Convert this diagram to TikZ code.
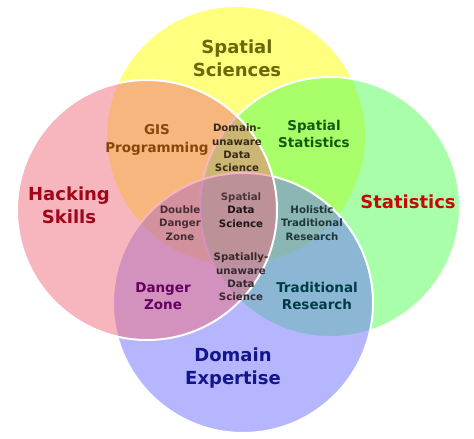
\documentclass[tikz,border=0pt]{standalone}
\usepackage{fontspec}
\setmainfont{DejaVu Sans}
\definecolor{cY}{RGB}{255,255,0}
\definecolor{cG}{RGB}{85,255,85}
\definecolor{cB}{RGB}{110,110,255}
\definecolor{cP}{RGB}{240,110,125}
\definecolor{tOlive}{RGB}{105,105,10}
\definecolor{tBrown}{RGB}{135,70,10}
\definecolor{tDkBrown}{RGB}{55,42,25}
\definecolor{tDkGreen}{RGB}{15,90,15}
\definecolor{tHack}{RGB}{160,5,25}
\definecolor{tStat}{RGB}{195,10,10}
\definecolor{tDD}{RGB}{70,45,50}
\definecolor{tSDS}{RGB}{25,20,20}
\definecolor{tSp}{RGB}{70,55,55}
\definecolor{tHol}{RGB}{30,55,55}
\definecolor{tSU}{RGB}{55,40,45}
\definecolor{tDanger}{RGB}{100,0,100}
\definecolor{tTrad}{RGB}{0,60,70}
\definecolor{tDom}{RGB}{20,20,140}
\tikzset{
  set/.style={draw=white, line width=2pt, fill opacity=0.5, draw opacity=1},
  big/.style={font=\bfseries\fontsize{18}{23}\selectfont, align=center, inner sep=0pt},
  mid/.style={font=\bfseries\fontsize{13.5}{17.5}\selectfont, align=center, inner sep=0pt},
  small/.style={font=\bfseries\fontsize{10.2}{13.3}\selectfont, align=center, inner sep=0pt}
}
\begin{document}
\begin{tikzpicture}[x=1pt, y=-1pt]
\useasboundingbox (0,0) rectangle (474,439);
\fill[white] (0,0) rectangle (474,439);
% circles in stacking order
\draw[set, fill=cY] (236,136) circle[radius=130];
\draw[set, fill=cG] (330,207) circle[radius=130];
\draw[set, fill=cB] (243,303) circle[radius=130];
\draw[set, fill=cP] (147,210) circle[radius=130];
% labels
\node[big, text=tOlive] (ss) at (237,58) {Spatial\\Sciences};
\node[big, text=tHack] (hs) at (69,205) {Hacking\\Skills};
\node[big, text=tStat] (st) at (408,202) {Statistics};
\node[big, text=tDom] (de) at (233,368) {Domain\\Expertise};
\node[mid, text=tBrown] (gis) at (157,140) {GIS\\Programming};
\node[mid, text=tDkGreen] (sst) at (314,134) {Spatial\\Statistics};
\node[mid, text=tDanger] (dz) at (163,296) {Danger\\Zone};
\node[mid, text=tTrad] (tr) at (317,296) {Traditional\\Research};
\node[small, text=tDkBrown] (du) at (237,148) {Domain-\\unaware\\Data\\Science};
\node[small, text=tDD] (ddz) at (180,223) {Double\\Danger\\Zone};
\node[small, text=tSDS] (sds) at (241,210) {\textcolor{tSp}{Spatial}\\Data\\Science};
\node[small, text=tHol] (htr) at (312,223) {Holistic\\Traditional\\Research};
\node[small, text=tSU] (su) at (241,277) {Spatially-\\unaware\\Data\\Science};
\end{tikzpicture}
\end{document}
